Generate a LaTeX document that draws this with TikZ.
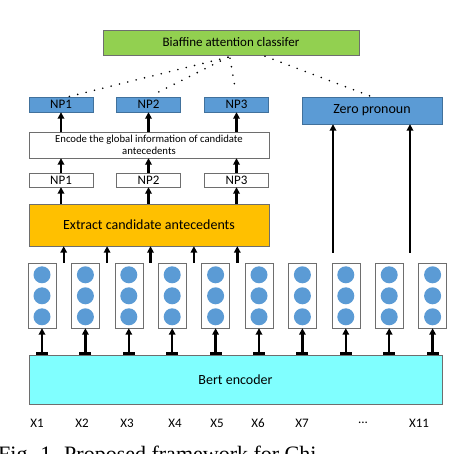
\documentclass[tikz,border=0pt]{standalone}
\usepackage{fontspec}
\setmainfont{Carlito}
\newfontfamily\capfont{Liberation Serif}
\usepackage{tikz}
\usetikzlibrary{positioning,shapes,arrows,arrows.meta,calc}
\definecolor{biagreen}{RGB}{146,208,80}
\definecolor{npblue}{RGB}{91,155,213}
\definecolor{npedge}{RGB}{65,113,156}
\definecolor{extorange}{RGB}{255,192,0}
\definecolor{bertcyan}{RGB}{128,255,255}
\definecolor{boxgray}{RGB}{110,110,110}
\tikzset{
    class/.style={
        rectangle,
        draw=boxgray,
        text centered,
        inner sep=0pt
    },
    arrow/.style={
        -{Triangle[width=6.5pt,length=6.5pt]},
        line width=2.4pt
    },
    bararrow/.style={
        {Bar[width=12pt]}-{Triangle[width=6.5pt,length=6.5pt]},
        line width=2.4pt
    },
    dots/.style={
        line width=1.8pt,
        dash pattern=on 0pt off 8.6pt,
        line cap=round
    }
}
\tikzstyle{np} = [class, fill=npblue, draw=npedge, minimum width=64pt, minimum height=15pt, font=\fontsize{13}{15}\selectfont]
\tikzstyle{npw} = [class, fill=white, minimum width=64pt, minimum height=14pt, font=\fontsize{13}{15}\selectfont]
\tikzstyle{vec} = [class, fill=white, minimum width=28pt, minimum height=65pt]
\tikzstyle{unit} = [circle, fill=npblue, minimum size=17pt, inner sep=0pt]
\tikzstyle{xlab} = [font=\fontsize{13}{15}\selectfont, inner sep=0pt]

\begin{document}
\begin{tikzpicture}[x=1pt,y=-1pt]
            \useasboundingbox [fill=white] (0,0) rectangle (474,454);
            \node (biaffine) [class, fill=biagreen, minimum width=256pt, minimum height=25pt, font=\fontsize{13}{15}\selectfont] at (231,42.5) {Biaffine attention classifer};
            \node (npt1) [np] at (61,104.5) {NP1};
            \node (npt2) [np] at (148.5,104.5) {NP2};
            \node (npt3) [np] at (236.5,104.5) {NP3};
            \node (zero) [class, fill=npblue, draw=npedge, minimum width=140pt, minimum height=27pt, font=\fontsize{14}{16}\selectfont] at (372,110.5) {Zero pronoun};
            \node (encode) [class, fill=white, minimum width=240pt, minimum height=26pt, align=center, font=\fontsize{10.7}{12.5}\selectfont] at (149,145) {Encode the global information of candidate\\antecedents};
            \node (npb1) [npw] at (61,180) {NP1};
            \node (npb2) [npw] at (148.5,180) {NP2};
            \node (npb3) [npw] at (236.5,180) {NP3};
            \node (extract) [class, fill=extorange, minimum width=240pt, minimum height=42pt, font=\fontsize{14}{16}\selectfont] at (149,225) {Extract candidate antecedents};
            \node (bert) [class, fill=bertcyan, minimum width=413pt, minimum height=49pt, font=\fontsize{14}{16}\selectfont] at (235.5,379.5) {Bert encoder};
            \foreach \i in {1,...,10} {
                \node (v\i) [vec] at ({42+43.4*(\i-1)},295.5) {};
                \foreach \k in {1,2,3}
                    \node (v\i-\k) [unit] at ($(v\i.north)+(0,{21*\k-9})$) {};
                \draw [bararrow] (v\i.south |- bert.north) -- (v\i.south);
            }
            \foreach \i/\j in {1/2,2/3,3/4,4/5,5/6} {
                \coordinate (g\i) at ($(v\i.north)!.5!(v\j.north)$);
                \draw [arrow] (g\i) -- (g\i |- extract.south);
            }
            \foreach \i in {1,2,3} {
                \draw [arrow] (npb\i.south |- extract.north) -- (npb\i.south);
                \draw [arrow] (npb\i.north) -- (npb\i.north |- encode.south);
                \draw [arrow] (npt\i.south |- encode.north) -- (npt\i.south);
            }
            \coordinate (zs1) at (333,253);
            \coordinate (zs2) at (410,253);
            \draw [arrow] (zs1) -- (zs1 |- zero.south);
            \draw [arrow] (zs2) -- (zs2 |- zero.south);
            \draw [dots] ([shift={(-3,2)}]biaffine.south) -- ([shift={(7,0)}]npt1.north);
            \draw [dots] ([shift={(-3,2)}]biaffine.south) -- ([shift={(8.5,-4)}]npt2.north);
            \draw [dots] ([shift={(-1,3)}]biaffine.south) -- ([shift={(-1.5,-9)}]npt3.north);
            \draw [dots] ([shift={(34,1)}]biaffine.south) -- (zero.north);
            \node (x1) [xlab] at (37,423) {X1};
            \node (x2) [xlab] at (82,423) {X2};
            \node (x3) [xlab] at (127,423) {X3};
            \node (x4) [xlab] at (175,423) {X4};
            \node (x5) [xlab] at (217,423) {X5};
            \node (x6) [xlab] at (258,423) {X6};
            \node (x7) [xlab] at (302,423) {X7};
            \node (xdots) [xlab] at (363,423) {...};
            \node (x11) [xlab] at (419,423) {X11};
            \node (caption) [anchor=base west, inner sep=0pt, font=\capfont\fontsize{22}{24}\selectfont] at (-2,461) {Fig. 1. Proposed framework for Chi};
        \end{tikzpicture}
\end{document}
